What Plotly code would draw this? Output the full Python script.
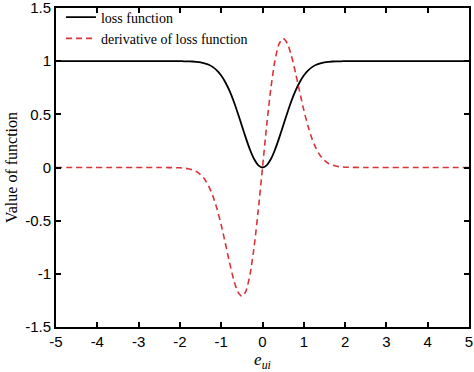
import plotly.graph_objects as go

# values
x_vals = [-5.0, -2.5, -2.0, -1.9, -1.8, -1.7, -1.6, -1.5, -1.4, -1.3, -1.2, -1.1, -1.0,
          -0.9, -0.8, -0.7, -0.6, -0.5, -0.4, -0.3, -0.2, -0.1, 0.0,
          0.1, 0.2, 0.3, 0.4, 0.5, 0.6, 0.7, 0.8, 0.9, 1.0,
          1.1, 1.2, 1.3, 1.4, 1.5, 1.6, 1.7, 1.8, 1.9, 2.0, 2.5, 5.0]
loss_vals = [1.0, 1.0, 1.0, 0.999, 0.998, 0.997, 0.994, 0.989, 0.980, 0.966, 0.944, 0.911, 0.865,
             0.802, 0.722, 0.625, 0.513, 0.393, 0.274, 0.165, 0.077, 0.020, 0.0,
             0.020, 0.077, 0.165, 0.274, 0.393, 0.513, 0.625, 0.722, 0.802, 0.865,
             0.911, 0.944, 0.966, 0.980, 0.989, 0.994, 0.997, 0.998, 0.999, 1.0, 1.0, 1.0]
deriv_vals = [0.0, 0.0, -0.003, -0.006, -0.011, -0.021, -0.038, -0.067, -0.111, -0.177, -0.269, -0.391, -0.541,
              -0.712, -0.890, -1.051, -1.168, -1.213, -1.162, -1.002, -0.738, -0.392, 0.0,
              0.392, 0.738, 1.002, 1.162, 1.213, 1.168, 1.051, 0.890, 0.712, 0.541,
              0.391, 0.269, 0.177, 0.111, 0.067, 0.038, 0.021, 0.011, 0.006, 0.003, 0.0, 0.0]
x_ticks = [-5, -4, -3, -2, -1, 0, 1, 2, 3, 4, 5]
x_tick_labels = ["-5", "-4", "-3", "-2", "-1", "0", "1", "2", "3", "4", "5"]
y_ticks = [-1.5, -1, -0.5, 0, 0.5, 1, 1.5]
y_tick_labels = ["-1.5", "-1", "-0.5", "0", "0.5", "1", "1.5"]

fig = go.Figure()
fig.add_trace(go.Scatter(x=x_vals, y=loss_vals, mode="lines", name="loss function",
                         line=dict(color="black", width=1.8, shape="spline", smoothing=0.6)))
fig.add_trace(go.Scatter(x=x_vals, y=deriv_vals, mode="lines", name="derivative of loss function",
                         line=dict(color="#d9343a", width=1.6, dash="6px,4px", shape="spline", smoothing=0.6)))

axis_common = dict(showgrid=False, zeroline=False, showline=True, linecolor="black", linewidth=2,
                   mirror="ticks", ticks="inside", ticklen=5, tickwidth=1.5, tickcolor="black",
                   automargin=False, ticklabeloverflow="allow",
                   tickfont=dict(family="Liberation Sans, Arial", size=15, color="black"))
fig.update_xaxes(range=[-5.0001, 5.0001], tickvals=x_ticks, ticktext=x_tick_labels, **axis_common,
                 title=dict(text="<i>e<sub>ui</sub></i>", standoff=2,
                            font=dict(family="Liberation Serif, Times New Roman", size=17, color="black")))
fig.update_yaxes(range=[-1.5001, 1.5001], tickvals=y_ticks, ticktext=y_tick_labels, **axis_common,
                 title=dict(text="Value of function", standoff=4,
                            font=dict(family="Liberation Serif, Times New Roman", size=16, color="black")))
fig.update_layout(
    width=474, height=372,
    margin=dict(l=56, r=5, t=8, b=45, autoexpand=False),
    paper_bgcolor="white", plot_bgcolor="white",
    legend=dict(x=0.012, y=1.02, xanchor="left", yanchor="top", bgcolor="rgba(0,0,0,0)",
                font=dict(family="Liberation Serif, Times New Roman", size=14, color="black"),
                tracegroupgap=0, itemwidth=30),
)
fig.write_html("out.html", config={"displayModeBar": False},
               post_script="document.body.style.margin='0';")
